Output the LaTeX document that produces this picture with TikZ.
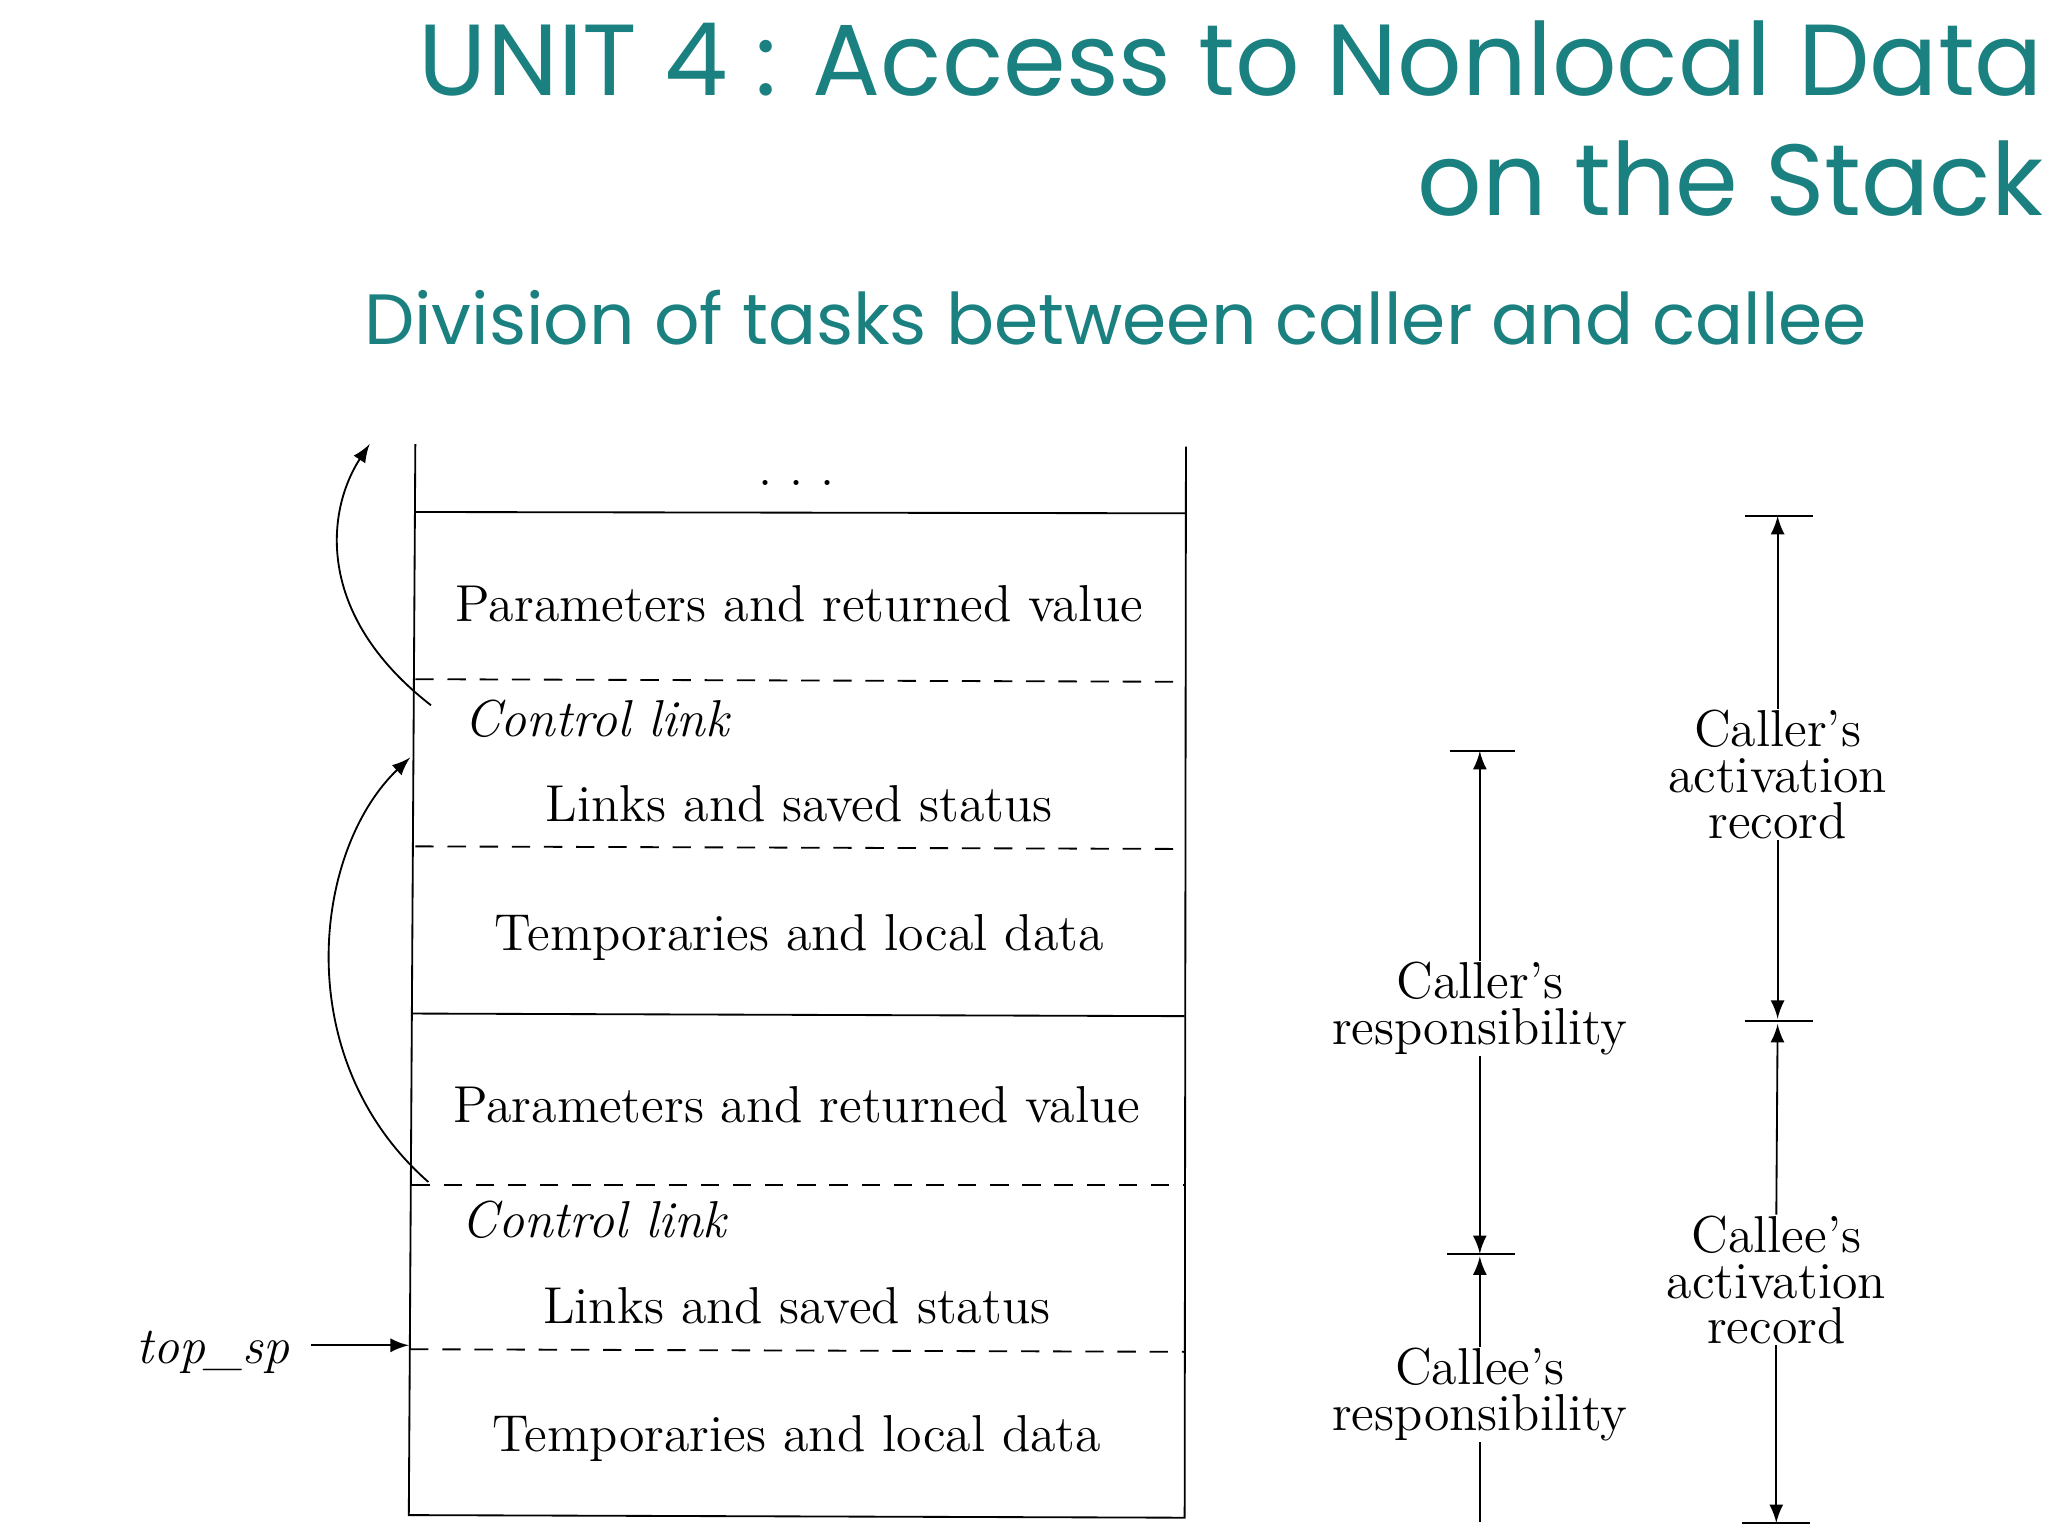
\documentclass[tikz,border=0pt]{standalone}
\usepackage{fontspec}
\newfontfamily\pop{Poppins}
\definecolor{tl}{RGB}{26,128,128}
\begin{document}
\begin{tikzpicture}[x=0.01cm,y=-0.01cm,
  tt/.style={font=\pop, text=tl, inner sep=0pt},
  bt/.style={font=\fontsize{11.3}{12}\selectfont, inner sep=0pt},
  dl/.style={dashed, dash pattern=on 4pt off 3pt},
  ar/.style={-latex, thin}]
\useasboundingbox (0,0) rectangle (1568,1176);
\node[tt, anchor=east, font=\pop\fontsize{22}{26}\selectfont] (t1) at (1565,45) {UNIT 4 : Access to Nonlocal Data};
\node[tt, anchor=east, font=\pop\fontsize{22}{26}\selectfont] (t2) at (1565,137) {on the Stack};
\node[tt, anchor=west, font=\pop\fontsize{15.5}{18}\selectfont] (t3) at (278,243) {Division of tasks between caller and callee};
% stack
\draw (318,340) -- (313,1160) -- (907,1162) -- (908,342);
\draw (318,392) -- (908,393);
\draw[dl] (318,520) -- (908,522);
\draw[dl] (318,648) -- (908,650);
\draw (316,776) -- (907,778);
\draw[dl] (315,907) -- (907,907);
\draw[dl] (314,1033) -- (907,1035);
\node[bt] (dots) at (610,370) {.\ .\ .};
\node[bt] (p1) at (612,462) {Parameters and returned value};
\node[bt, anchor=west] (c1) at (355,550) {\itshape Control link};
\node[bt] (l1) at (612,615) {Links and saved status};
\node[bt] (tp1) at (612,718) {Temporaries and local data};
\node[bt] (p2) at (610,846) {Parameters and returned value};
\node[bt, anchor=west] (c2) at (353,934) {\itshape Control link};
\node[bt] (l2) at (610,1000) {Links and saved status};
\node[bt] (tp2) at (610,1101) {Temporaries and local data};
\coordinate (u1) at (283,340);
\coordinate (u2) at (314,580);
\coordinate (sp) at (313,1030);
\draw[ar] (330,540) .. controls (240,470) and (250,390) .. (u1);
\draw[ar] (328,905) .. controls (220,810) and (240,650) .. (u2);
\node[bt] (top) at (163,1035) {\itshape top\_sp};
\draw[ar] (238,1030) -- (sp);
% brackets
\draw (1110,575) -- (1160,575);
\draw (1108,960) -- (1160,960);
\node[bt, align=center] (cr) at (1133,772) {Caller's\\[-2pt]responsibility};
\draw[ar] (cr.north) -- (1133,575);
\draw[ar] (cr.south) -- (1133,960);
\node[bt, align=center] (ce) at (1133,1068) {Callee's\\[-2pt]responsibility};
\draw[ar] (ce.north) -- (1133,962);
\draw (ce.south) -- (1133,1165);
\draw (1336,395) -- (1388,395);
\draw (1336,782) -- (1388,782);
\draw (1334,1166) -- (1386,1166);
\node[bt, align=center] (ca) at (1361,593) {Caller's\\[-2pt]activation\\[-2pt]record};
\draw[ar] (ca.north) -- (1361,395);
\draw[ar] (ca.south) -- (1361,780);
\node[bt, align=center] (cea) at (1360,980) {Callee's\\[-2pt]activation\\[-2pt]record};
\draw[ar] (cea.north) -- (1361,784);
\draw[ar] (cea.south) -- (1360,1166);
\end{tikzpicture}
\end{document}
